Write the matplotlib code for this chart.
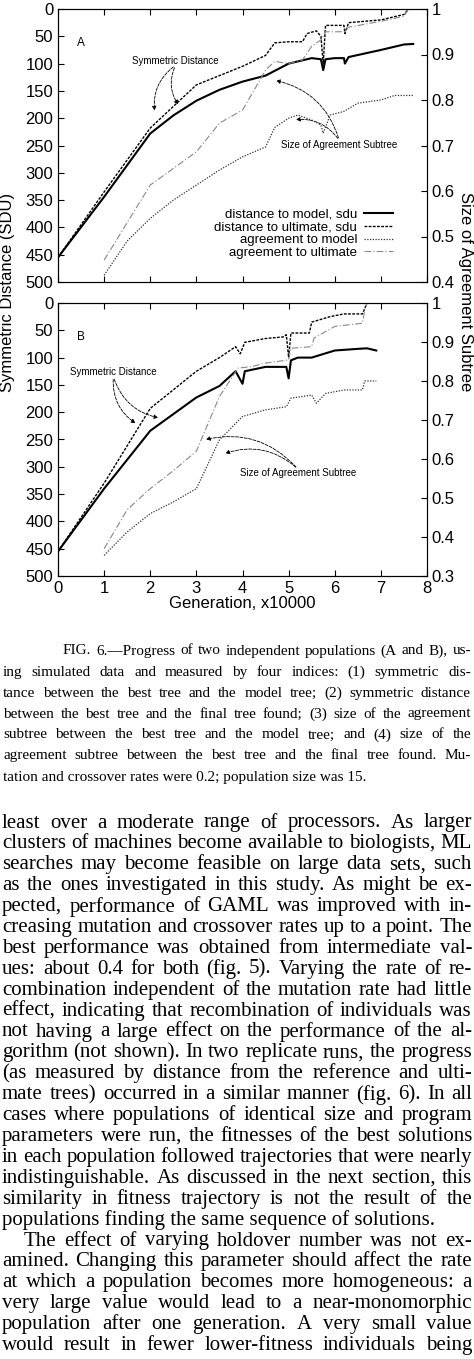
import numpy as np
import matplotlib
matplotlib.use('Agg')
import matplotlib.pyplot as plt

# ---- panel A data (generation x10000) ----
a_model_x = [0, 1, 2, 2.5, 3, 3.5, 4, 4.5, 5, 5.5, 5.7, 5.75, 5.8, 6.0, 6.2, 6.22, 6.3, 7.0, 7.5, 7.7]
a_model_y = [455, 344, 228, 195, 168, 148, 133, 122, 100, 90, 92, 112, 92, 90, 90, 100, 88, 75, 65, 64]
a_ult_x = [0, 1, 2, 3, 4, 4.5, 4.7, 5.0, 5.3, 5.4, 5.6, 5.7, 5.75, 5.8, 6.2, 6.22, 6.3, 7.0, 7.5, 7.6, 7.7]
a_ult_y = [455, 335, 218, 139, 105, 85, 62, 60, 60, 45, 40, 50, 100, 30, 30, 45, 25, 20, 10, 0, 0]
a_agm_x = [1, 1.5, 2, 2.5, 3, 3.5, 4, 4.5, 4.7, 5.0, 5.2, 5.5, 5.7, 5.75, 5.9, 6.2, 6.5, 7.0, 7.3, 7.7]
a_agm_y = [0.415, 0.49, 0.54, 0.58, 0.613, 0.646, 0.675, 0.697, 0.74, 0.76, 0.767, 0.756, 0.745, 0.727, 0.767, 0.775, 0.793, 0.80, 0.81, 0.81]
a_agu_x = [1, 2, 3, 3.5, 4, 4.3, 4.5, 4.7, 5.0, 5.3, 5.5, 5.7, 5.8, 6.2, 6.3, 7.0, 7.5, 7.6, 7.7]
a_agu_y = [0.448, 0.613, 0.686, 0.749, 0.778, 0.83, 0.866, 0.885, 0.88, 0.888, 0.918, 0.932, 0.95, 0.95, 0.96, 0.973, 0.984, 1.0, 1.0]

# ---- panel B data ----
b_model_x = [0, 1, 2, 3, 3.5, 3.85, 4.0, 4.05, 4.5, 4.95, 5.0, 5.05, 5.2, 5.5, 6.0, 6.5, 6.7, 6.9]
b_model_y = [455, 340, 234, 173, 152, 125, 148, 125, 117, 117, 138, 105, 100, 100, 87, 84, 83, 87]
b_ult_x = [0, 1, 2, 3, 3.5, 3.85, 3.95, 4.05, 4.5, 4.9, 4.95, 5.0, 5.05, 5.45, 5.5, 5.9, 6.2, 6.6, 6.7]
b_ult_y = [455, 330, 193, 125, 100, 80, 93, 72, 65, 62, 58, 100, 55, 55, 35, 25, 20, 20, 0]
b_agm_x = [1, 1.5, 2, 2.5, 3, 3.5, 4, 4.5, 4.95, 5.05, 5.5, 5.6, 5.8, 6.2, 6.6, 6.65, 6.9]
b_agm_y = [0.353, 0.413, 0.46, 0.49, 0.524, 0.649, 0.709, 0.726, 0.734, 0.756, 0.764, 0.743, 0.768, 0.777, 0.777, 0.80, 0.80]
b_agu_x = [1, 1.5, 2, 2.5, 3, 3.5, 3.9, 4.2, 4.5, 5.0, 5.05, 5.5, 5.55, 6.0, 6.6, 6.65, 6.7]
b_agu_y = [0.37, 0.47, 0.524, 0.57, 0.62, 0.76, 0.833, 0.837, 0.846, 0.854, 0.884, 0.888, 0.91, 0.94, 0.948, 0.983, 1.0]

caption = [
    "FIG. 6.\u2014Progress of two independent populations (A and B), us-",
    "ing simulated data and measured by four indices: (1) symmetric dis-",
    "tance between the best tree and the model tree; (2) symmetric distance",
    "between the best tree and the final tree found; (3) size of the agreement",
    "subtree between the best tree and the model tree; and (4) size of the",
    "agreement subtree between the best tree and the final tree found. Mu-",
    "tation and crossover rates were 0.2; population size was 15.",
]
body = [
    "least over a moderate range of processors. As larger",
    "clusters of machines become available to biologists, ML",
    "searches may become feasible on large data sets, such",
    "as the ones investigated in this study. As might be ex-",
    "pected, performance of GAML was improved with in-",
    "creasing mutation and crossover rates up to a point. The",
    "best performance was obtained from intermediate val-",
    "ues: about 0.4 for both (fig. 5). Varying the rate of re-",
    "combination independent of the mutation rate had little",
    "effect, indicating that recombination of individuals was",
    "not having a large effect on the performance of the al-",
    "gorithm (not shown). In two replicate runs, the progress",
    "(as measured by distance from the reference and ulti-",
    "mate trees) occurred in a similar manner (fig. 6). In all",
    "cases where populations of identical size and program",
    "parameters were run, the fitnesses of the best solutions",
    "in each population followed trajectories that were nearly",
    "indistinguishable. As discussed in the next section, this",
    "similarity in fitness trajectory is not the result of the",
    "populations finding the same sequence of solutions.",
    "The effect of varying holdover number was not ex-",
    "amined. Changing this parameter should affect the rate",
    "at which a population becomes more homogeneous: a",
    "very large value would lead to a near-monomorphic",
    "population after one generation. A very small value",
    "would result in fewer lower-fitness individuals being",
]

W, H = 474, 1359
fig = plt.figure(figsize=(W / 100, H / 100), dpi=100)
plt.rcParams['font.family'] = ['Liberation Sans', 'DejaVu Sans']

FS = 12


def make_panel(bottom_px, ylo, data, label, ann):
    ax = fig.add_axes([58 / W, 1 - bottom_px / H, 369 / W, 273 / H])
    ax.set_xlim(0, 8)
    ax.set_ylim(500, 0)
    ax.set_yticks(range(0, 501, 50))
    ax.set_xticks(range(0, 9))
    ax.tick_params(labelsize=FS, direction='in', length=4, top=True)
    ax2 = ax.twinx()
    ax2.set_ylim(ylo, 1)
    ticks = np.round(np.arange(ylo, 1.001, 0.1), 1)
    ax2.set_yticks(ticks)
    ax2.set_yticklabels([('%g' % t) for t in ticks])
    ax2.tick_params(labelsize=FS, direction='in', length=4)
    mx, my, ux, uy, gx, gy, hx, hy = data
    l1, = ax.plot(mx, my, color='black', lw=1.5, label='distance to model, sdu')
    l2, = ax.plot(ux, uy, color='black', lw=1.0, ls=(0, (2, 1)), label='distance to ultimate, sdu')
    l3, = ax2.plot(gx, gy, color='#333333', lw=0.9, ls=(0, (1, 1.2)), label='agreement to model')
    l4, = ax2.plot(hx, hy, color='#888888', lw=0.8, ls=(0, (6, 2, 1, 2)), label='agreement to ultimate')
    ax.text(0.42, label[1], label[0], fontsize=8.5)
    for txt, tpos, tips in ann:
        ax.text(tpos[0], tpos[1], txt, fontsize=7, ha='center', va='center')
        for tip in tips:
            ax.annotate('', xy=tip, xytext=(tpos[0], tpos[1] + (8 if tip[1] > tpos[1] else -8)),
                        arrowprops=dict(arrowstyle='-|>', lw=0.6, color='black', ls='--',
                                        mutation_scale=6,
                                        connectionstyle='arc3,rad=0.3'))
    return ax, [l1, l2, l3, l4]


axA, lines = make_panel(282, 0.4,
                        (a_model_x, a_model_y, a_ult_x, a_ult_y, a_agm_x, a_agm_y, a_agu_x, a_agu_y),
                        ('A', 68),
                        [('Symmetric Distance', (2.55, 95), [(2.1, 191), (2.64, 179)]),
                         ('Size of Agreement Subtree', (6.1, 249), [(4.67, 130), (5.1, 203)])])
axA.set_xticklabels([])
axA.legend(handles=lines, loc='lower right', bbox_to_anchor=(0.925, 0.06), frameon=False,
           markerfirst=False, fontsize=9.5, handlelength=2.2, labelspacing=0.05,
           borderpad=0, handletextpad=0.5)

axB, _ = make_panel(576, 0.3,
                    (b_model_x, b_model_y, b_ult_x, b_ult_y, b_agm_x, b_agm_y, b_agu_x, b_agu_y),
                    ('B', 68),
                    [('Symmetric Distance', (1.2, 127), [(1.73, 223), (2.23, 211)]),
                     ('Size of Agreement Subtree', (5.2, 312), [(3.15, 251), (3.57, 277)])])
axB.set_xlabel('Generation, x10000', fontsize=FS, labelpad=0)

fig.text(8 / W, 1 - 292 / H, 'Symmetric Distance (SDU)', rotation=90, fontsize=FS,
         ha='center', va='center')
fig.text(465 / W, 1 - 292 / H, 'Size of Agreement Subtree', rotation=-90, fontsize=FS,
         ha='center', va='center')

# ---- justified text ----
fig.canvas.draw()
renderer = fig.canvas.get_renderer()


def justified(lines, y0, dy, size, left, right, indent=None, last_left=()):
    for i, line in enumerate(lines):
        y = 1 - (y0 + i * dy) / H
        x0 = left + (indent.get(i, 0) if indent else 0)
        words = line.split(' ')
        if i in last_left or len(words) == 1:
            fig.text(x0 / W, y, line, fontsize=size, family='Liberation Serif', va='center')
            continue
        objs = [fig.text(0, y, w, fontsize=size, family='Liberation Serif', va='center') for w in words]
        widths = [o.get_window_extent(renderer).width for o in objs]
        gap = (right - x0 - sum(widths)) / (len(words) - 1)
        x = x0
        for o, w in zip(objs, widths):
            o.set_x(x / W)
            x += w + gap


justified(caption, 651, 21, 11, 3, 471, indent={0: 60}, last_left=(6,))
justified(body, 823, 20.9, 15, 2, 472, indent={20: 22}, last_left=(19,))

fig.savefig('out.png', dpi=100)
